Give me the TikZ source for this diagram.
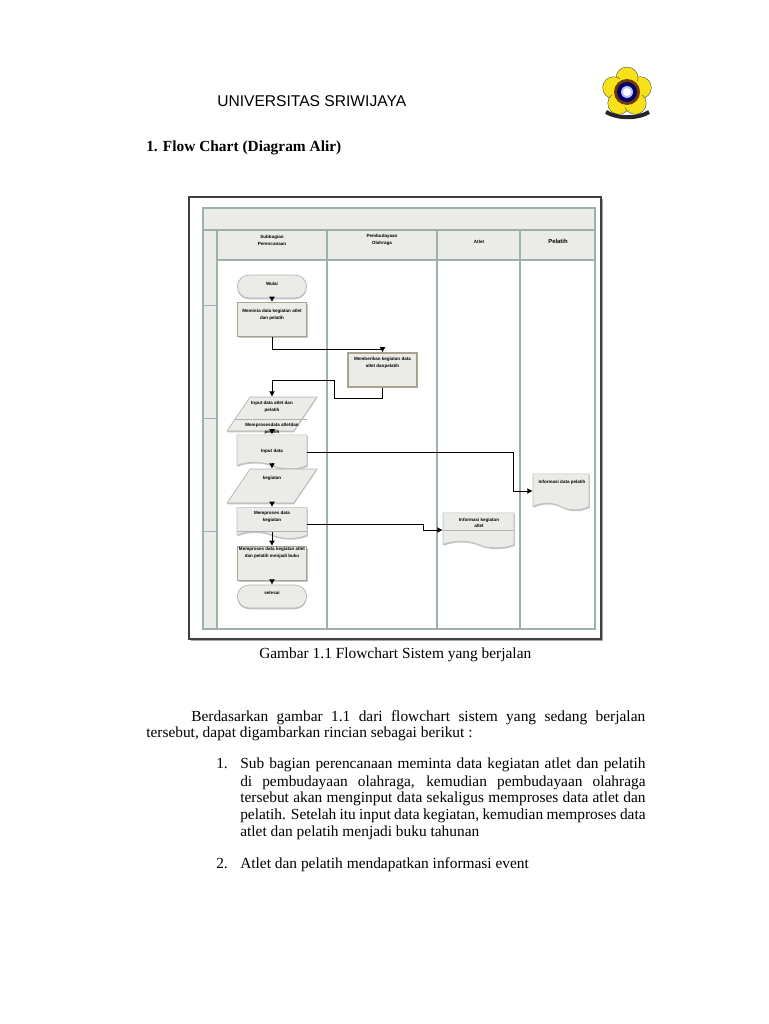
\documentclass[tikz,border=0pt]{standalone}
\usepackage{fontspec}
\setmainfont{Liberation Serif}
\setsansfont{Liberation Sans}
\usetikzlibrary{arrows.meta,shadows,shapes.geometric,shapes.misc,shapes.symbols}

\definecolor{flowfill}{HTML}{EBEBE8}
\definecolor{poolline}{HTML}{9DB0AA}
\definecolor{boxline}{HTML}{A8A490}
\definecolor{logoyellow}{HTML}{F7E21A}

\tikzset{
    flowlabel/.style={font=\sffamily\bfseries\fontsize{3.4}{5}\selectfont,align=center,text=black},
    boxstep/.style={draw=boxline,fill=flowfill,line width=0.8pt,minimum width=69*0.75pt,minimum height=34*0.75pt,
        drop shadow={shadow xshift=0.8pt,shadow yshift=-1pt,fill=gray!90}},
    startstop/.style={rounded rectangle,draw=gray!60,fill=flowfill,line width=0.5pt,minimum width=78*0.75pt,minimum height=23*0.75pt,
        drop shadow={shadow xshift=0pt,shadow yshift=-1pt,fill=gray!90}},
    slanted/.style={trapezium,trapezium stretches=true,trapezium left angle=62,trapezium right angle=118,
        draw=gray!60,fill=flowfill,line width=0.5pt,minimum width=90*0.75pt,minimum height=34*0.75pt,
        drop shadow={shadow xshift=0pt,shadow yshift=-1pt,fill=gray!90}},
    paper/.style={tape,tape bend top=none,tape bend bottom=out and in,tape bend height=5pt,draw=gray!50,fill=flowfill,line width=0.5pt,
        minimum width=70*0.75pt,minimum height=34*0.75pt,inner sep=0pt,
        drop shadow={shadow xshift=0.6pt,shadow yshift=-1pt,fill=gray!90}},
    flowarrow/.style={-{Latex[length=4pt,width=4.5pt]},line width=0.75pt},
    poolband/.style={draw=poolline,fill=flowfill,line width=0.8pt},
    bodytext/.style={anchor=base west,inner sep=0pt,font=\fontsize{11.55}{13}\selectfont}
}

\newlength{\linewd}
\newcommand{\fullline}[1]{\makebox[\linewd][s]{#1}}

\begin{document}
\begin{tikzpicture}[x=0.75pt,y=-0.75pt,>=Latex]
\useasboundingbox (0,0) rectangle (768,1024);
\fill[white] (0,0) rectangle (768,1024);

% Page head
\node[anchor=base west,inner sep=0pt,font=\sffamily\fontsize{11.7}{13}\selectfont] (kop) at (217,106) {UNIVERSITAS SRIWIJAYA};
\node[anchor=base west,inner sep=0pt,font=\bfseries\fontsize{11.55}{13}\selectfont] (judul) at (146,151) {1. Flow Chart (Diagram Alir)};

% Logo
\foreach \a in {18,90,162,234,306}{
    \fill[logoyellow,draw=black!70,line width=0.3pt] (627,92) ++(-\a:14) circle[radius=11];
}
\fill[logoyellow] (627,92) circle[radius=15];
\fill[black!55!orange] (627,92) circle[radius=13];
\fill[black!60!blue] (627,92) circle[radius=10];
\fill[blue!25] (627,92) circle[radius=6];
\fill[white] (627,92) circle[radius=4];
\draw[black!85,line width=3pt] (606,112) .. controls (618,119) and (638,119) .. (649,112);

% Frame
\fill[gray!70] (191,199) rectangle (603,641);
\draw[black!75,line width=0.8pt,fill=white] (189,197) rectangle (601,639);

% Pool
\draw[poolband] (203,208) rectangle (595,230);
\draw[poolband] (203,230) rectangle (217,629);
\draw[poolband] (217,230) rectangle (595,260);
\draw[poolline,line width=0.8pt] (217,260) rectangle (595,629);
\foreach \x in {327,437,520}{
    \draw[poolline,line width=0.8pt] (\x,230) -- (\x,629);
}
\foreach \y in {305,418,531}{
    \draw[poolline,line width=0.6pt] (203,\y) -- (217,\y);
}

% Headers
\node[flowlabel] (subbagian) at (272,240.5) {Subbagian\\Perencanaan};
\node[flowlabel] (pembudayaan) at (382,240) {Pembudayaan\\Olahraga};
\node[flowlabel] (atlet) at (479,242) {Atlet};
\node[flowlabel,font=\sffamily\bfseries\fontsize{4.4}{5}\selectfont] (pelatih) at (558,241) {Pelatih};

% Steps
\node[startstop] (wulai) at (272,286.5) {};
\node[boxstep] (meminta) at (272,319.5) {};
\node[boxstep] (memberikan) at (382.5,370) {};
\node[slanted] (inputatlet) at (272,414) {};
\node[paper] (inputdata) at (272,448.5) {};
\node[slanted] (kegiatan) at (272,486) {};
\node[paper,minimum height=31*0.75pt] (memprosesdata) at (272,519.5) {};
\node[boxstep] (memprosesbuku) at (272,563.5) {};
\node[startstop] (selesai) at (272,596.5) {};
\node[paper,minimum width=71*0.75pt,minimum height=35*0.75pt] (infokegiatan) at (478.5,527) {};
\node[paper,minimum width=56*0.75pt,minimum height=36*0.75pt] (infopelatih) at (561,488.5) {};

% Inner lines
\draw[gray!60,line width=0.4pt] (235,419) -- (307,419);
\draw[gray!60,line width=0.4pt] (237,531) -- (307,531);
\draw[gray!60,line width=0.4pt] (443,530) -- (514,530);

% Step labels
\node[flowlabel] (wulailab) at (272,284) {Wulai};
\node[flowlabel] (mintalab) at (272,315) {Meminta data kegiatan atlet\\dan pelatih};
\node[flowlabel] (berilab) at (382.5,363) {Memberikan kegiatan data\\atlet danpelatih};
\node[flowlabel] (atletlab) at (272,407) {Input data atlet dan\\pelatih};
\node[flowlabel] (prosesatletlab) at (272,428.5) {Memprosesdata atletdan\\pelatih};
\node[flowlabel] (inputlab) at (272,451.5) {Input data};
\node[flowlabel] (kegiatanlab) at (272,478) {kegiatan};
\node[flowlabel] (proseslab) at (272,517) {Memproses data\\kegiatan};
\node[flowlabel] (bukulab) at (272,552.5) {Memproses data kegiatan atlet\\dan pelatih menjadi buku};
\node[flowlabel] (selesailab) at (272,593) {selesai};
\node[flowlabel] (infokeglab) at (479,523) {Informasi kegiatan\\atlet};
\node[flowlabel] (infopellab) at (562,482) {Informasi data pelatih};

% Connectors
\draw[flowarrow] (wulai) -- (meminta);
\draw[flowarrow] (meminta.south) -- ++(0,12) -| (memberikan.north);
\draw[flowarrow] (memberikan.south) -- ++(0,10.5) -| (334,380.5) -| (inputatlet.north);
\draw[flowarrow] (inputatlet.south) -- (inputdata.north);
\draw[flowarrow] (inputdata.south) -- (kegiatan.north);
\draw[flowarrow] (kegiatan.south) -- (memprosesdata.north);
\draw[flowarrow] (memprosesdata.south) -- (memprosesbuku.north);
\draw[flowarrow] (memprosesbuku.south) -- (selesai.north);
\draw[flowarrow] (inputdata.east |- 0,452) -- (513,452) |- (infopelatih.west |- 0,491);
\draw[flowarrow] (memprosesdata.east |- 0,524) -- (423,524) |- (infokegiatan.west |- 0,530);

% Caption
\node[anchor=base west,inner sep=0pt,font=\fontsize{11.55}{13}\selectfont] (gambar) at (259,658) {Gambar 1.1 Flowchart Sistem yang berjalan};

% Body text
\setlength{\linewd}{340.5pt}
\node[bodytext] (par1a) at (191,721) {\fullline{Berdasarkan gambar 1.1 dari flowchart sistem yang sedang berjalan}};
\node[bodytext] (par1b) at (146,737) {tersebut, dapat digambarkan rincian sebagai berikut :};
\setlength{\linewd}{304pt}
\node[bodytext] (num1) at (216,768) {1.};
\node[bodytext] (item1a) at (240,768) {\fullline{Sub bagian perencanaan meminta data kegiatan atlet dan pelatih}};
\node[bodytext] (item1b) at (240,786) {\fullline{di pembudayaan olahraga, kemudian pembudayaan olahraga}};
\node[bodytext] (item1c) at (240,802) {\fullline{tersebut akan menginput data sekaligus memproses data atlet dan}};
\node[bodytext] (item1d) at (240,819) {\fullline{pelatih. Setelah itu input data kegiatan, kemudian memproses data}};
\node[bodytext] (item1e) at (240,836) {atlet dan pelatih menjadi buku tahunan};
\node[bodytext] (num2) at (216,868) {2.};
\node[bodytext] (item2) at (240,868) {Atlet dan pelatih mendapatkan informasi event};

\end{tikzpicture}
\end{document}
